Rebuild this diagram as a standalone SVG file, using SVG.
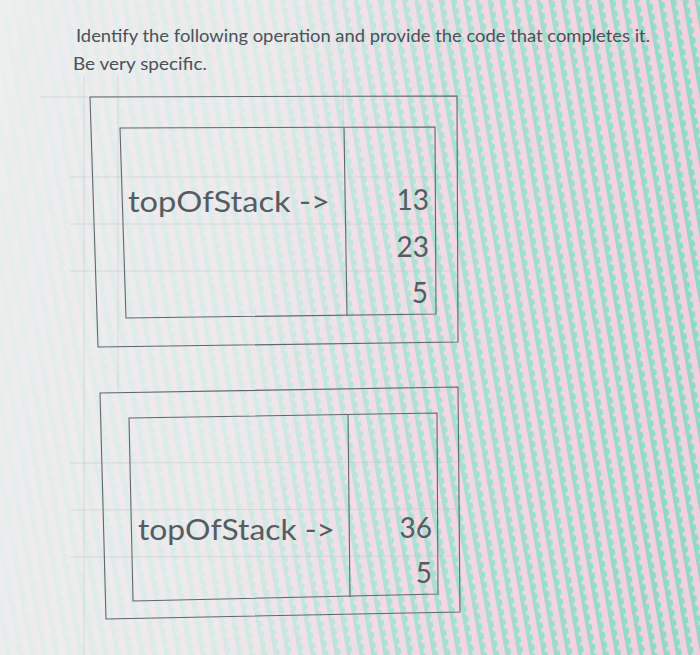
<svg xmlns="http://www.w3.org/2000/svg" width="700" height="655" viewBox="0 0 700 655">
  <defs>
    <style>
      .title { font-family: Lato, "Open Sans", "Liberation Sans", sans-serif; font-size: 17.5px; fill: #4a5058; }
      .lbl { font-family: Lato, "Open Sans", "Liberation Sans", sans-serif; font-size: 29px; fill: #555b62; }
      .num { font-family: Lato, "Open Sans", "Liberation Sans", sans-serif; font-size: 28px; fill: #555b62; text-anchor: end; }
      .box { fill: none; stroke: #5f666d; stroke-width: 1.1; }
      .grid { stroke: #b9c4c4; stroke-width: 0.8; opacity: 0.6; }
    </style>
    <pattern id="stripes" width="12" height="10" patternUnits="userSpaceOnUse" patternTransform="rotate(-10)">
      <rect width="12" height="10" fill="#f4cfdd"/>
      <rect x="0" width="6" height="10" fill="#8adcc8"/>
      <circle cx="6" cy="5" r="2.5" fill="#f4cfdd"/>
    </pattern>
    <linearGradient id="fade" x1="0" y1="0" x2="1" y2="0.1">
      <stop offset="0" stop-color="#fff" stop-opacity="0.06"/>
      <stop offset="0.4" stop-color="#fff" stop-opacity="0.22"/>
      <stop offset="0.65" stop-color="#fff" stop-opacity="0.7"/>
      <stop offset="1" stop-color="#fff" stop-opacity="1"/>
    </linearGradient>
    <mask id="m">
      <rect width="700" height="655" fill="url(#fade)"/>
    </mask>
  </defs>

  <rect width="700" height="655" fill="#eef0f0"/>
  <rect width="700" height="655" fill="url(#stripes)" mask="url(#m)"/>

  <g id="grid">
    <line class="grid" x1="84" y1="75" x2="84" y2="655"/>
    <line class="grid" x1="118" y1="75" x2="118" y2="390"/>
    <line class="grid" x1="343" y1="75" x2="343" y2="127"/>
    <line class="grid" x1="40" y1="97" x2="470" y2="96"/>
    <line class="grid" x1="70" y1="177" x2="457" y2="177"/>
    <line class="grid" x1="70" y1="224" x2="457" y2="224"/>
    <line class="grid" x1="70" y1="271" x2="457" y2="271"/>
    <line class="grid" x1="70" y1="463" x2="460" y2="462"/>
    <line class="grid" x1="70" y1="510" x2="460" y2="509"/>
    <line class="grid" x1="70" y1="557" x2="460" y2="556"/>
  </g>

  <g id="question">
    <text class="title" x="76" y="42" textLength="574" lengthAdjust="spacingAndGlyphs">Identify the following operation and provide the code that completes it.</text>
    <text class="title" x="73" y="70" textLength="134" lengthAdjust="spacingAndGlyphs">Be very specific.</text>
  </g>

  <g id="stack1">
    <polygon class="box" points="90,97 457,96 458,342 98,347"/>
    <polygon class="box" points="120,128 435,127 436,314 126,318"/>
    <line class="box" x1="344" y1="127" x2="347" y2="316"/>
    <text class="lbl" x="128" y="212" textLength="202" lengthAdjust="spacingAndGlyphs">topOfStack -&gt;</text>
    <text class="num" x="429" y="210">13</text>
    <text class="num" x="429" y="257">23</text>
    <text class="num" x="428" y="303">5</text>
  </g>

  <g id="stack2">
    <polygon class="box" points="100,393 458,387 460,612 106,619"/>
    <polygon class="box" points="129,418 437,413 438,594 133,601"/>
    <line class="box" x1="348" y1="414" x2="350" y2="597"/>
    <text class="lbl" x="138" y="540" textLength="197" lengthAdjust="spacingAndGlyphs">topOfStack -&gt;</text>
    <text class="num" x="432" y="538">36</text>
    <text class="num" x="432" y="583">5</text>
  </g>
</svg>
